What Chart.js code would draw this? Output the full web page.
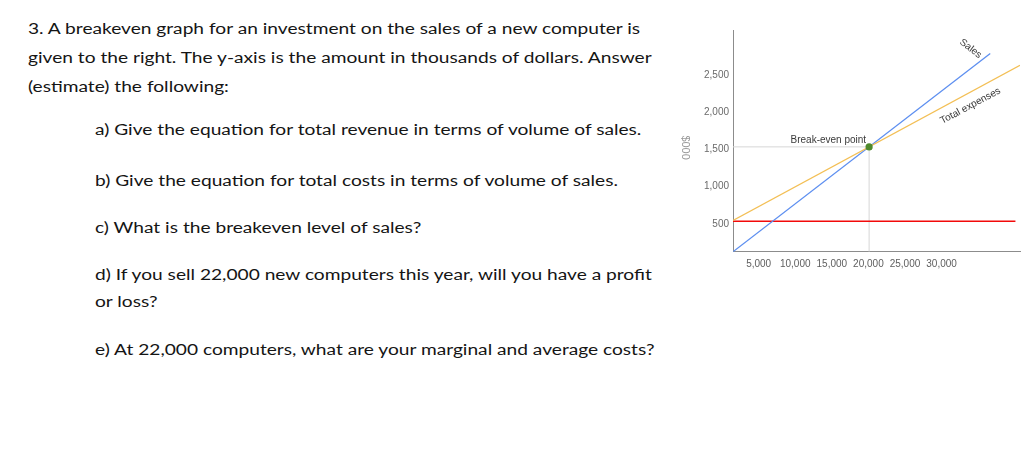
<!DOCTYPE html>
<html><head><meta charset="utf-8">
<script src="https://cdn.jsdelivr.net/npm/chart.js@4.4.1/dist/chart.umd.min.js"></script>
<style>
html,body{margin:0;padding:0;background:#fff;width:1024px;height:474px;overflow:hidden}
.q{position:absolute;font-family:Lato,'Open Sans',sans-serif;font-size:15.6px;color:#151515;white-space:nowrap;transform-origin:0 0;line-height:1.2}
#wrap{position:absolute;left:660px;top:20px;width:364px;height:260px}
</style></head><body>
<div id="text"></div>
<div id="wrap"><canvas id="c" width="364" height="260"></canvas></div>
<script>
// ---- data (thousands of dollars vs. units sold) ----
const salesX = [0, 37800];
const salesY = [91, 2754];
const costX = [0, 42170];
const costY = [510, 2597];
const fixedX = [0, 41500];
const fixedY = [500, 500];
const breakEvenX = [20000];
const breakEvenY = [1500];
const yTicks = [500, 1000, 1500, 2000, 2500];
const xTicks = [5000, 10000, 15000, 20000, 25000, 30000];
const yTitle = '$000';
const labelSales = 'Sales';
const labelCost = 'Total expenses';
const labelBreakEven = 'Break-even point';

// ---- question text ----
const lines = [
  [28, 34, "3. A breakeven graph for an investment on the sales of a new computer is", 613],
  [28, 63, "given to the right. The y-axis is the amount in thousands of dollars. Answer", 620],
  [28, 91.7, "(estimate) the following:", null],
  [95, 135, "a) Give the equation for total revenue in terms of volume of sales.", null],
  [95, 186, "b) Give the equation for total costs in terms of volume of sales.", null],
  [95, 232.7, "c) What is the breakeven level of sales?", null],
  [95, 280, "d) If you sell 22,000 new computers this year, will you have a profit", 557],
  [95, 306.7, "or loss?", null],
  [95, 355, "e) At 22,000 computers, what are your marginal and average costs?", 562]
];
const holder = document.getElementById('text');
const els = lines.map(([l, b, t]) => {
  const d = document.createElement('div');
  d.className = 'q';
  d.style.left = l + 'px';
  d.textContent = t;
  const m = document.createElement('span');
  m.style.cssText = 'display:inline-block;width:0;height:0;vertical-align:baseline';
  d.appendChild(m);
  holder.appendChild(d);
  return {d, m, b};
});
let ratios = [];
lines.forEach((ln, i) => { if (ln[3]) ratios.push(ln[3] / els[i].d.getBoundingClientRect().width); });
const sx = ratios.reduce((a, b) => a + b, 0) / ratios.length;
els.forEach(({d, m, b}) => {
  d.style.top = '0px';
  const off = m.offsetTop;
  d.style.top = (b - off) + 'px';
  d.style.transform = 'scaleX(' + sx + ')';
});

// ---- chart ----
const fmt = v => String(v).replace(/\B(?=(\d{3})+(?!\d))/g, ',');
const pts = (xs, ys) => xs.map((x, i) => ({x, y: ys[i]}));
const tickFont = {family: "'Liberation Sans', Arial, sans-serif", size: 10};

const labelPlugin = {
  id: 'labels',
  afterDraw(chart) {
    const {ctx, scales: {x, y}, chartArea} = chart;
    ctx.save();
    ctx.fillStyle = '#3a3a3a';
    ctx.font = "10px 'Liberation Sans', Arial, sans-serif";
    // break-even label
    ctx.textAlign = 'right';
    ctx.textBaseline = 'alphabetic';
    ctx.fillText(labelBreakEven, x.getPixelForValue(breakEvenX[0]) - 3, y.getPixelForValue(breakEvenY[0]) - 4);
    // sales label
    ctx.save();
    ctx.translate(x.getPixelForValue(34900), y.getPixelForValue(2820));
    ctx.rotate(37 * Math.PI / 180);
    ctx.textAlign = 'center'; ctx.textBaseline = 'middle';
    ctx.fillText(labelSales, 0, 0);
    ctx.restore();
    // total expenses label
    ctx.save();
    ctx.translate(x.getPixelForValue(34900), y.getPixelForValue(2052));
    ctx.rotate(-28 * Math.PI / 180);
    ctx.textAlign = 'center'; ctx.textBaseline = 'middle';
    ctx.fillText(labelCost, 0, 0);
    ctx.restore();
    // y title rotated clockwise
    ctx.save();
    ctx.fillStyle = '#9a9a9a';
    ctx.font = "11px 'Liberation Sans', Arial, sans-serif";
    ctx.translate(chartArea.left - 48, y.getPixelForValue(1490));
    ctx.rotate(Math.PI / 2);
    ctx.textAlign = 'center'; ctx.textBaseline = 'middle';
    ctx.fillText(yTitle, 0, 0);
    ctx.restore();
    ctx.restore();
  }
};

new Chart(document.getElementById('c'), {
  type: 'scatter',
  data: {
    datasets: [
      {data: [{x: 0, y: breakEvenY[0]}, {x: breakEvenX[0], y: breakEvenY[0]}], showLine: true, borderColor: '#d6d6d6', borderWidth: 1, pointRadius: 0, order: 6},
      {data: [{x: breakEvenX[0], y: salesY[0]}, {x: breakEvenX[0], y: breakEvenY[0]}], showLine: true, borderColor: '#d6d6d6', borderWidth: 1, pointRadius: 0, order: 6},
      {label: 'Fixed', data: pts(fixedX, fixedY), showLine: true, borderColor: '#f20a0a', borderWidth: 1.5, pointRadius: 0, order: 3},
      {label: 'Total expenses', data: pts(costX, costY), showLine: true, borderColor: '#f3bf55', borderWidth: 1.3, pointRadius: 0, order: 2},
      {label: 'Sales', data: pts(salesX, salesY), showLine: true, borderColor: '#5d8ff0', borderWidth: 1.3, pointRadius: 0, order: 2},
      {label: 'Break-even', data: pts(breakEvenX, breakEvenY), pointRadius: 3.6, pointBackgroundColor: '#4f8a2c', pointBorderWidth: 0, order: 0}
    ]
  },
  options: {
    responsive: false,
    animation: false,
    events: [],
    layout: {padding: {top: 9.3, left: 0, right: 0, bottom: 0}},
    plugins: {legend: {display: false}, tooltip: {enabled: false}},
    scales: {
      x: {
        type: 'linear', position: 'bottom', weight: 0, min: 0, max: 42170,
        ticks: {display: false},
        grid: {display: false, drawTicks: false},
        border: {display: true, color: '#8c8c8c', width: 1},
        afterFit(s) { s.height = 0; }
      },
      xl: {
        type: 'linear', axis: 'x', position: 'bottom', weight: 1, min: 1496, max: 40714,
        afterBuildTicks(s) { s.ticks = xTicks.map(v => ({value: v})); },
        ticks: {font: tickFont, color: '#5e5e5e', padding: 7, maxRotation: 0, autoSkip: false, callback: v => fmt(v)},
        grid: {display: false, drawTicks: false},
        border: {display: false},
        afterFit(s) { s.height = 28.3; }
      },
      y: {
        type: 'linear', position: 'left', min: 91, max: 3071,
        afterBuildTicks(s) { s.ticks = yTicks.map(v => ({value: v})); },
        ticks: {font: tickFont, color: '#6a6a6a', padding: 4, labelOffset: 2.5, callback: v => fmt(v)},
        grid: {display: false, drawTicks: false},
        border: {display: true, color: '#8c8c8c', width: 1},
        afterFit(s) { s.width = 73; }
      }
    }
  },
  plugins: [labelPlugin]
});
</script>
</body></html>
